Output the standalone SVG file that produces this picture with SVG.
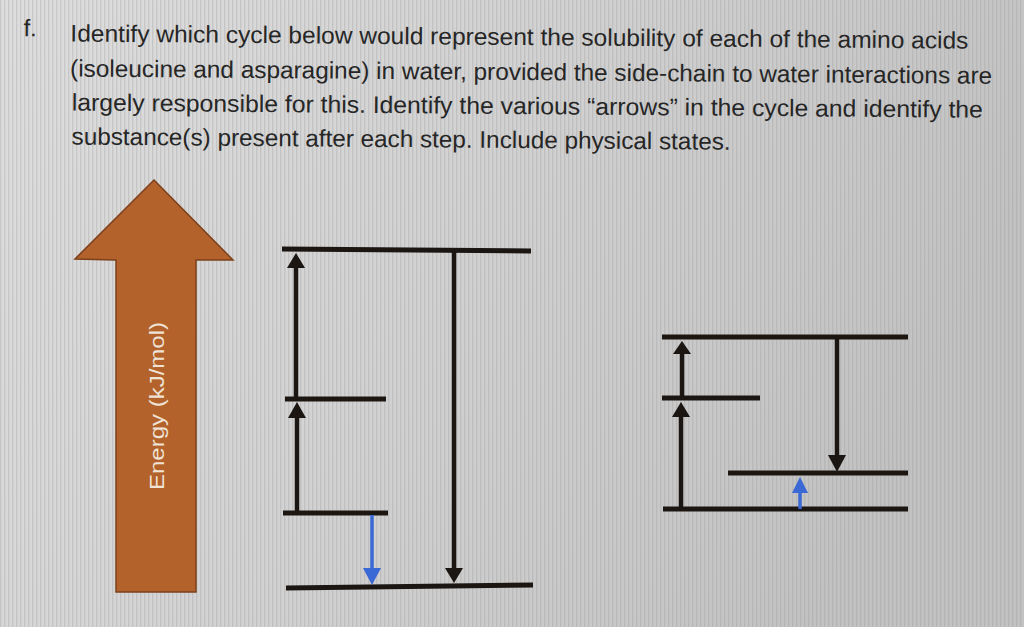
<svg xmlns="http://www.w3.org/2000/svg" width="1024" height="627" viewBox="0 0 1024 627">
<defs>
<linearGradient id="bg" x1="0" y1="0" x2="1" y2="0.3">
<stop offset="0" stop-color="#dedede"/>
<stop offset="0.5" stop-color="#d2d2d2"/>
<stop offset="1" stop-color="#c2c2c2"/>
</linearGradient>
<pattern id="stripes" width="4" height="10" patternUnits="userSpaceOnUse">
<rect x="0" y="0" width="1.4" height="10" fill="#9a9a9a" opacity="0.3"/>
</pattern>
</defs>
<style>
.txt{font-family:"Liberation Sans","Open Sans",Arial,sans-serif;font-size:24px;fill:#262626}
.lvl{stroke:#1c1612;stroke-width:5;stroke-linecap:butt}
.ar{stroke:#1c1612;stroke-width:4.5;fill:none}
.blue{stroke:#3a68d4;stroke-width:3.5;fill:none}
.bh{fill:#3a68d4}
.kh{fill:#1c1612}
</style>
<rect width="1024" height="627" fill="url(#bg)"/>
<rect width="1024" height="627" fill="url(#stripes)"/>

<g id="question" transform="rotate(0.45 512 90)">
<text class="txt" x="23" y="40">f.</text>
<text class="txt" x="70" y="45" textLength="898" lengthAdjust="spacingAndGlyphs">Identify which cycle below would represent the solubility of each of the amino acids</text>
<text class="txt" x="70" y="80" textLength="922" lengthAdjust="spacingAndGlyphs">(isoleucine and asparagine) in water, provided the side-chain to water interactions are</text>
<text class="txt" x="72" y="114" textLength="911" lengthAdjust="spacingAndGlyphs">largely responsible for this.  Identify the various “arrows” in the cycle and identify the</text>
<text class="txt" x="72" y="148" textLength="659" lengthAdjust="spacingAndGlyphs">substance(s) present after each step.  Include physical states.</text>
</g>

<g id="energy-axis">
<polygon points="154,180 233,260 196,260 196,592 116,592 116,260 75,259" fill="#b3622b" stroke="#7c401b" stroke-width="1.5"/>
<text transform="translate(164 406) rotate(-90)" text-anchor="middle" font-family="'Liberation Sans','Open Sans',Arial,sans-serif" font-size="20" fill="#efe3d6" textLength="168" lengthAdjust="spacingAndGlyphs">Energy (kJ/mol)</text>
</g>

<g id="cycle-left">
<g id="L-top"><line class="lvl" x1="282" y1="249" x2="531" y2="251"/></g>
<g id="L-mid"><line class="lvl" x1="285" y1="399" x2="386" y2="399"/></g>
<g id="L-low"><line class="lvl" x1="283" y1="513" x2="388" y2="513"/></g>
<g id="L-bottom"><line class="lvl" x1="286" y1="588" x2="533" y2="585"/></g>
</g>

<g id="cycle-right">
<g id="R-top"><line class="lvl" x1="662" y1="337" x2="908" y2="337"/></g>
<g id="R-mid"><line class="lvl" x1="662" y1="398" x2="760" y2="398"/></g>
<g id="R-upperlow"><line class="lvl" x1="728" y1="473" x2="908" y2="473"/></g>
<g id="R-bottom"><line class="lvl" x1="663" y1="509" x2="908" y2="509"/></g>
</g>

<g id="connectors">
<line class="ar" x1="297" y1="511" x2="297" y2="414"/>
<polygon class="kh" points="297,402 306,418 288,418"/>
<line class="ar" x1="296" y1="397" x2="296" y2="264"/>
<polygon class="kh" points="296,253 305,268 287,268"/>
<line class="blue" x1="372" y1="515" x2="372" y2="572"/>
<polygon class="bh" points="363,568 381,568 372,585"/>
<line class="ar" x1="454" y1="252" x2="454" y2="572"/>
<polygon class="kh" points="445,568 463,568 454,583"/>
<line class="ar" x1="681" y1="507" x2="681" y2="413"/>
<polygon class="kh" points="681,402 690,417 672,417"/>
<line class="ar" x1="682" y1="396" x2="682" y2="350"/>
<polygon class="kh" points="682,341 691,354 673,354"/>
<line class="ar" x1="837" y1="339" x2="837" y2="460"/>
<polygon class="kh" points="828,455 846,455 837,472"/>
<line class="blue" x1="800" y1="509" x2="800" y2="488"/>
<polygon class="bh" points="800,477 808,493 792,493"/>
</g>
</svg>
